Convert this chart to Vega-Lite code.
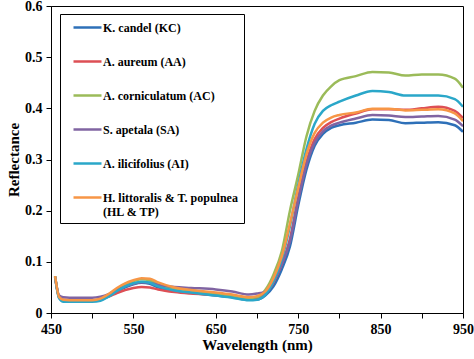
{
  "$schema": "https://vega.github.io/schema/vega-lite/v6.json",
  "width": 412,
  "height": 307,
  "autosize": "none",
  "padding": {"left": 51, "top": 6, "right": 11, "bottom": 46},
  "background": "white",
  "config": {
    "view": {"stroke": "black", "strokeWidth": 1},
    "font": "Liberation Serif"
  },
  "data": {
    "values": [
      {"w": 455, "KC": 0.072, "AA": 0.070, "AC": 0.072, "SA": 0.070, "AI": 0.070, "HL": 0.072},
      {"w": 460, "KC": 0.030, "AA": 0.030, "AC": 0.030, "SA": 0.034, "AI": 0.028, "HL": 0.031},
      {"w": 465, "KC": 0.025, "AA": 0.026, "AC": 0.025, "SA": 0.031, "AI": 0.022, "HL": 0.026},
      {"w": 480, "KC": 0.024, "AA": 0.025, "AC": 0.024, "SA": 0.030, "AI": 0.022, "HL": 0.025},
      {"w": 500, "KC": 0.024, "AA": 0.025, "AC": 0.024, "SA": 0.030, "AI": 0.022, "HL": 0.025},
      {"w": 510, "KC": 0.026, "AA": 0.027, "AC": 0.027, "SA": 0.032, "AI": 0.024, "HL": 0.028},
      {"w": 520, "KC": 0.033, "AA": 0.032, "AC": 0.036, "SA": 0.037, "AI": 0.032, "HL": 0.037},
      {"w": 530, "KC": 0.042, "AA": 0.039, "AC": 0.047, "SA": 0.045, "AI": 0.043, "HL": 0.049},
      {"w": 540, "KC": 0.050, "AA": 0.045, "AC": 0.056, "SA": 0.052, "AI": 0.052, "HL": 0.058},
      {"w": 550, "KC": 0.056, "AA": 0.049, "AC": 0.062, "SA": 0.057, "AI": 0.058, "HL": 0.064},
      {"w": 560, "KC": 0.059, "AA": 0.051, "AC": 0.066, "SA": 0.060, "AI": 0.061, "HL": 0.068},
      {"w": 570, "KC": 0.057, "AA": 0.050, "AC": 0.064, "SA": 0.059, "AI": 0.059, "HL": 0.067},
      {"w": 580, "KC": 0.050, "AA": 0.046, "AC": 0.056, "SA": 0.055, "AI": 0.052, "HL": 0.060},
      {"w": 600, "KC": 0.043, "AA": 0.041, "AC": 0.048, "SA": 0.051, "AI": 0.044, "HL": 0.050},
      {"w": 620, "KC": 0.039, "AA": 0.038, "AC": 0.044, "SA": 0.049, "AI": 0.040, "HL": 0.045},
      {"w": 650, "KC": 0.034, "AA": 0.035, "AC": 0.038, "SA": 0.046, "AI": 0.034, "HL": 0.040},
      {"w": 670, "KC": 0.031, "AA": 0.032, "AC": 0.034, "SA": 0.042, "AI": 0.030, "HL": 0.036},
      {"w": 690, "KC": 0.026, "AA": 0.029, "AC": 0.029, "SA": 0.036, "AI": 0.025, "HL": 0.031},
      {"w": 700, "KC": 0.026, "AA": 0.030, "AC": 0.031, "SA": 0.038, "AI": 0.026, "HL": 0.033},
      {"w": 710, "KC": 0.034, "AA": 0.038, "AC": 0.045, "SA": 0.042, "AI": 0.036, "HL": 0.042},
      {"w": 720, "KC": 0.052, "AA": 0.060, "AC": 0.075, "SA": 0.062, "AI": 0.062, "HL": 0.068},
      {"w": 730, "KC": 0.085, "AA": 0.095, "AC": 0.120, "SA": 0.095, "AI": 0.105, "HL": 0.110},
      {"w": 740, "KC": 0.130, "AA": 0.145, "AC": 0.200, "SA": 0.140, "AI": 0.170, "HL": 0.175},
      {"w": 750, "KC": 0.210, "AA": 0.225, "AC": 0.270, "SA": 0.220, "AI": 0.250, "HL": 0.245},
      {"w": 760, "KC": 0.280, "AA": 0.295, "AC": 0.345, "SA": 0.290, "AI": 0.320, "HL": 0.310},
      {"w": 770, "KC": 0.327, "AA": 0.340, "AC": 0.395, "SA": 0.333, "AI": 0.370, "HL": 0.352},
      {"w": 780, "KC": 0.350, "AA": 0.362, "AC": 0.425, "SA": 0.355, "AI": 0.395, "HL": 0.372},
      {"w": 790, "KC": 0.362, "AA": 0.373, "AC": 0.443, "SA": 0.366, "AI": 0.406, "HL": 0.382},
      {"w": 800, "KC": 0.367, "AA": 0.380, "AC": 0.455, "SA": 0.372, "AI": 0.413, "HL": 0.387},
      {"w": 820, "KC": 0.372, "AA": 0.390, "AC": 0.463, "SA": 0.380, "AI": 0.425, "HL": 0.392},
      {"w": 840, "KC": 0.378, "AA": 0.398, "AC": 0.471, "SA": 0.387, "AI": 0.434, "HL": 0.399},
      {"w": 860, "KC": 0.377, "AA": 0.398, "AC": 0.470, "SA": 0.386, "AI": 0.432, "HL": 0.399},
      {"w": 880, "KC": 0.371, "AA": 0.397, "AC": 0.464, "SA": 0.383, "AI": 0.425, "HL": 0.396},
      {"w": 900, "KC": 0.372, "AA": 0.400, "AC": 0.466, "SA": 0.384, "AI": 0.425, "HL": 0.397},
      {"w": 920, "KC": 0.373, "AA": 0.403, "AC": 0.466, "SA": 0.385, "AI": 0.425, "HL": 0.398},
      {"w": 940, "KC": 0.367, "AA": 0.395, "AC": 0.458, "SA": 0.378, "AI": 0.418, "HL": 0.390},
      {"w": 950, "KC": 0.354, "AA": 0.381, "AC": 0.440, "SA": 0.365, "AI": 0.403, "HL": 0.375}
    ]
  },
  "transform": [
    {"fold": ["KC", "AA", "AC", "SA", "AI", "HL"], "as": ["code", "r"]},
    {"lookup": "code", "from": {"data": {"values": [
      {"code": "KC", "name": "K. candel (KC)"},
      {"code": "AA", "name": "A. aureum (AA)"},
      {"code": "AC", "name": "A. corniculatum (AC)"},
      {"code": "SA", "name": "S. apetala (SA)"},
      {"code": "AI", "name": "A. ilicifolius (AI)"},
      {"code": "HL", "name": "H. littoralis & T. populnea (HL & TP)"}
    ]}, "key": "code", "fields": ["name"]}}
  ],
  "mark": {"type": "line", "strokeWidth": 2.5, "interpolate": "monotone", "clip": true},
  "encoding": {
    "x": {
      "field": "w", "type": "quantitative",
      "scale": {"domain": [450, 950], "nice": false, "zero": false},
      "axis": {
        "title": "Wavelength (nm)",
        "titleFont": "Liberation Serif", "titleFontSize": 15, "titleFontWeight": "bold", "titleColor": "black",
        "titlePadding": 1,
        "values": [450, 500, 550, 600, 650, 700, 750, 800, 850, 900, 950],
        "labelExpr": "(datum.value - 450) % 100 == 0 ? datum.label : ''",
        "labelFont": "Liberation Serif", "labelFontSize": 14, "labelFontWeight": "bold", "labelColor": "black",
        "labelPadding": 4,
        "grid": false, "domainColor": "black", "tickColor": "black", "tickSize": 5,
        "labelOverlap": false, "labelFlush": false
      }
    },
    "y": {
      "field": "r", "type": "quantitative",
      "scale": {"domain": [0, 0.6], "nice": false},
      "axis": {
        "title": "Reflectance",
        "titleFont": "Liberation Serif", "titleFontSize": 15, "titleFontWeight": "bold", "titleColor": "black",
        "titlePadding": 3,
        "values": [0, 0.1, 0.2, 0.3, 0.4, 0.5, 0.6],
        "labelExpr": "datum.value == 0 ? '0' : format(datum.value, '.1f')",
        "labelFont": "Liberation Serif", "labelFontSize": 14, "labelFontWeight": "bold", "labelColor": "black",
        "labelPadding": 4,
        "grid": false, "domainColor": "black", "tickColor": "black", "tickSize": 5,
        "labelOverlap": false, "labelFlush": false
      }
    },
    "color": {
      "field": "name", "type": "nominal",
      "scale": {
        "domain": ["K. candel (KC)", "A. aureum (AA)", "A. corniculatum (AC)", "S. apetala (SA)", "A. ilicifolius (AI)", "H. littoralis & T. populnea (HL & TP)"],
        "range": ["#2E70B8", "#DD4F55", "#9BBB59", "#8064A2", "#2AA7C9", "#F79646"]
      },
      "legend": {
        "title": null,
        "orient": "none",
        "legendX": 9,
        "legendY": 8,
        "direction": "vertical",
        "symbolType": "M-2,0H2",
        "symbolSize": 196,
        "symbolStrokeWidth": 2.5,
        "symbolOffset": 14,
        "labelFont": "Liberation Serif",
        "labelFontSize": 12,
        "labelFontWeight": "bold",
        "labelColor": "black",
        "labelOffset": 7,
        "labelLimit": 300,
        "labelExpr": "datum.label == 'H. littoralis & T. populnea (HL & TP)' ? ['H. littoralis & T. populnea', '(HL & TP)'] : datum.label",
        "rowPadding": 19,
        "padding": 5,
        "strokeColor": "black",
        "fillColor": "white"
      }
    }
  }
}
